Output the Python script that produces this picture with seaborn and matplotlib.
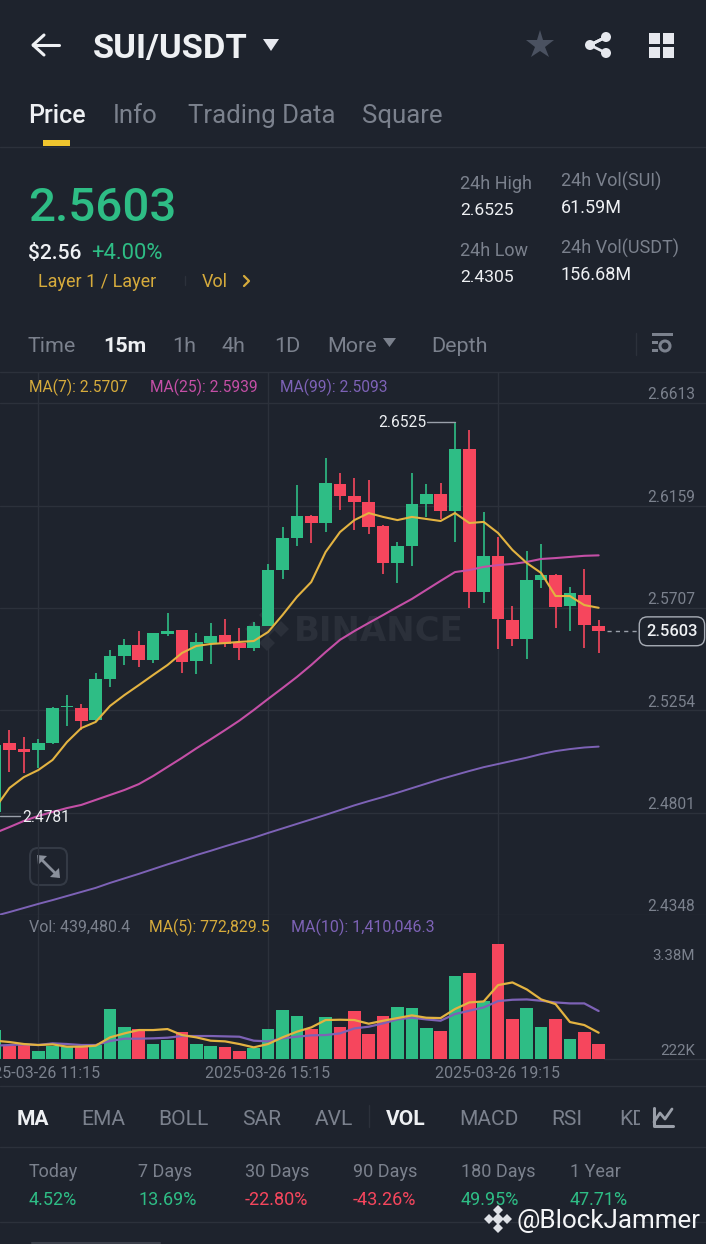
import numpy as np
import pandas as pd
import seaborn as sns
import matplotlib.pyplot as plt
from matplotlib.patches import FancyBboxPatch, Polygon, Circle, Rectangle

# candles, 15m, oldest first
opens = [2.4804, 2.5109, 2.5082, 2.5078, 2.5109, 2.5268, 2.5264, 2.5211, 2.5392, 2.5494,
         2.5542, 2.5476, 2.5591, 2.5609, 2.5472, 2.5551, 2.5587, 2.5551, 2.5529, 2.5626,
         2.5874, 2.6016, 2.6113, 2.6082, 2.6255, 2.6202, 2.6175, 2.6069, 2.5905, 2.5980,
         2.6166, 2.6210, 2.6135, 2.6410, 2.5777, 2.5936, 2.5653, 2.5569, 2.5830, 2.5852,
         2.5715, 2.5764, 2.5626]
closes = [2.5100, 2.5078, 2.5069, 2.5109, 2.5264, 2.5273, 2.5206, 2.5392, 2.5494, 2.5542,
          2.5476, 2.5596, 2.5604, 2.5467, 2.5556, 2.5582, 2.5547, 2.5529, 2.5626, 2.5874,
          2.6016, 2.6113, 2.6082, 2.6259, 2.6202, 2.6175, 2.6064, 2.5905, 2.5980, 2.6166,
          2.6210, 2.6135, 2.6410, 2.5777, 2.5936, 2.5657, 2.5569, 2.5830, 2.5852, 2.5711,
          2.5772, 2.5631, 2.5603]
highs = [2.5122, 2.5166, 2.5135, 2.5127, 2.5268, 2.5321, 2.5281, 2.5419, 2.5520, 2.5569,
         2.5604, 2.5596, 2.5684, 2.5609, 2.5596, 2.5640, 2.5657, 2.5618, 2.5644, 2.5901,
         2.6064, 2.6250, 2.6118, 2.6370, 2.6303, 2.6281, 2.6272, 2.6073, 2.5998, 2.6303,
         2.6255, 2.6259, 2.6525, 2.6494, 2.6131, 2.6020, 2.5715, 2.5958, 2.5989, 2.5856,
         2.5799, 2.5879, 2.5653]
lows = [2.4781, 2.4981, 2.4976, 2.4998, 2.5104, 2.5184, 2.5166, 2.5202, 2.5357, 2.5454,
        2.5445, 2.5463, 2.5582, 2.5419, 2.5414, 2.5458, 2.5534, 2.5476, 2.5516, 2.5626,
        2.5834, 2.5980, 2.5994, 2.6042, 2.6140, 2.6051, 2.6033, 2.5856, 2.5817, 2.5892,
        2.6109, 2.6100, 2.5998, 2.5706, 2.5728, 2.5525, 2.5538, 2.5480, 2.5795, 2.5618,
        2.5604, 2.5529, 2.5507]

ma7 = [2.4821, 2.4910, 2.4958, 2.4989, 2.5034, 2.5113, 2.5175, 2.5202, 2.5273, 2.5321,
       2.5365, 2.5410, 2.5454, 2.5507, 2.5538, 2.5547, 2.5551, 2.5556, 2.5560, 2.5600,
       2.5675, 2.5755, 2.5821, 2.5954, 2.6042, 2.6095, 2.6126, 2.6109, 2.6095, 2.6109,
       2.6100, 2.6091, 2.6126, 2.6082, 2.6087, 2.6038, 2.5963, 2.5905, 2.5861, 2.5759,
       2.5759, 2.5719, 2.5707]
ma25 = [2.4711, 2.4737, 2.4764, 2.4786, 2.4804, 2.4821, 2.4835, 2.4857, 2.4879, 2.4901,
        2.4927, 2.4963, 2.5003, 2.5043, 2.5085, 2.5125, 2.5166, 2.5208, 2.5255, 2.5304,
        2.5352, 2.5401, 2.5454, 2.5511, 2.5565, 2.5604, 2.5640, 2.5675, 2.5711, 2.5746,
        2.5786, 2.5826, 2.5865, 2.5874, 2.5888, 2.5896, 2.5901, 2.5910, 2.5923, 2.5927,
        2.5932, 2.5937, 2.5939]
ma99 = [2.4344, 2.4361, 2.4379, 2.4397, 2.4414, 2.4432, 2.4450, 2.4468, 2.4490, 2.4510,
        2.4530, 2.4551, 2.4572, 2.4592, 2.4613, 2.4632, 2.4652, 2.4671, 2.4690, 2.4711,
        2.4731, 2.4751, 2.4771, 2.4791, 2.4812, 2.4833, 2.4852, 2.4870, 2.4889, 2.4909,
        2.4929, 2.4949, 2.4967, 2.4985, 2.5002, 2.5016, 2.5030, 2.5044, 2.5060, 2.5073,
        2.5082, 2.5089, 2.5093]

# volume in thousands
volume = [851, 382, 430, 225, 391, 362, 362, 411, 1467, 929,
          880, 430, 558, 792, 430, 372, 362, 245, 333, 871,
          1438, 1252, 880, 1223, 929, 1419, 734, 1252, 1516, 1497,
          900, 832, 2436, 2514, 1702, 3380, 1174, 1487, 939, 1164,
          577, 783, 439]
vol_ma5 = [538, 499, 440, 411, 430, 362, 362, 391, 636, 753,
           851, 851, 880, 704, 636, 538, 518, 440, 342, 440,
           636, 802, 929, 1145, 1154, 1145, 1037, 1125, 1203, 1282,
           1213, 1203, 1467, 1663, 1692, 2172, 2250, 2045, 1751, 1614,
           1086, 998, 773]
vol_ma10 = [391, 411, 430, 411, 460, 440, 411, 411, 528, 597,
            597, 607, 626, 675, 675, 675, 665, 655, 538, 518,
            607, 655, 695, 704, 753, 900, 949, 1047, 1164, 1213,
            1164, 1125, 1321, 1419, 1516, 1702, 1741, 1751, 1712, 1663,
            1634, 1634, 1410]

price_ticks = [2.6613, 2.6159, 2.5707, 2.5254, 2.4801, 2.4348]
date_idx = [3, 19, 35]
date_labels = ['2025-03-26 11:15', '2025-03-26 15:15', '2025-03-26 19:15']

tabs = [('Price', 28, True), ('Info', 113, False), ('Trading Data', 188, False), ('Square', 362, False)]
intervals = [('Time', 27, False), ('15m', 103, True), ('1h', 172, False), ('4h', 222, False),
             ('1D', 274, False), ('More', 327, False), ('Depth', 431, False)]
indicators = [('MA', 17, True), ('EMA', 81, False), ('BOLL', 158, False), ('SAR', 242, False),
              ('AVL', 315, False), ('VOL', 386, True), ('MACD', 459, False), ('RSI', 551, False),
              ('KD', 619, False)]
periods = ['Today', '7 Days', '30 Days', '90 Days', '180 Days', '1 Year']
period_x = [29, 138, 245, 353, 461, 570]
period_vals = ['4.52%', '13.69%', '-22.80%', '-43.26%', '49.95%', '47.71%']

BG = '#1e232d'
GRID = '#2c313b'
GREY = '#7b818d'
WHITE = '#eef0f3'
GREEN = '#2ebd85'
RED = '#f6465d'
YELLOW = '#e3b341'
PINK = '#c44fa6'
PURPLE = '#7d62b6'

sns.set_theme(style='dark')
plt.rcParams['font.family'] = ['Roboto', 'DejaVu Sans']

df = pd.DataFrame({'i': np.arange(len(opens)), 'open': opens, 'close': closes, 'high': highs, 'low': lows,
                   'ma7': ma7, 'ma25': ma25, 'ma99': ma99,
                   'vol': np.array(volume) * 1000, 'vol5': np.array(vol_ma5) * 1000,
                   'vol10': np.array(vol_ma10) * 1000})
df['dir'] = np.where(df['close'] >= df['open'], 'up', 'down')
palette = {'up': GREEN, 'down': RED}

fig = plt.figure(figsize=(7.06, 12.44), dpi=100, facecolor=BG)

# page layer in screen pixels, one below the chart panels and one above
page = fig.add_axes([0, 0, 1, 1], zorder=0)
page.set_xlim(0, 706)
page.set_ylim(1244, 0)
page.axis('off')
over = fig.add_axes([0, 0, 1, 1], zorder=2)
over.set_xlim(0, 706)
over.set_ylim(1244, 0)
over.axis('off')


def label(x, y, s, px, color=GREY, weight='normal', ha='left', ax=page):
    return ax.text(x, y, s, fontsize=px * 0.72, color=color, fontweight=weight, ha=ha, va='baseline')


def binance_logo(x, y, r, color):
    page.plot([x], [y], marker='D', ms=r * 0.5, color=color, mew=0)
    for dx, dy in [(-1, 0), (1, 0), (0, -1), (0, 1)]:
        page.plot([x + dx * r * 0.72], [y + dy * r * 0.72], marker='D', ms=r * 0.42, color=color, mew=0)


# header
page.plot([33, 59], [45, 45], color=WHITE, lw=2.2, solid_capstyle='round')
page.plot([44, 33, 44], [35, 45, 55], color=WHITE, lw=2.2, solid_capstyle='round', solid_joinstyle='round')
label(93, 58, 'SUI/USDT', 34.5, WHITE, 'bold')
page.add_patch(Polygon([[263, 39], [279, 39], [271, 51]], closed=True, color='#e6e8ee', lw=0))
page.plot([540], [45], marker='*', ms=21, color='#4a5160', mew=0)
page.plot([590, 606, 590, 606], [45, 37, 45, 53], color='#e6e8ee', lw=2)
for cx, cy in [(590, 45), (606, 37), (606, 53)]:
    page.add_patch(Circle((cx, cy), 5, color='#e6e8ee', lw=0))
for cx, cy in [(649, 33), (663, 33), (649, 47), (663, 47)]:
    page.add_patch(Rectangle((cx, cy), 11, 10.5, color='#e6e8ee', lw=0))

for txt, x, on in tabs:
    label(x, 123, txt, 25 if on else 25.8, WHITE if on else GREY, 'medium' if on else 'normal')
page.add_patch(Rectangle((43, 140), 27, 5.5, color='#f0c52e', lw=0))
page.plot([0, 706], [147, 147], color=GRID, lw=1)

# ticker block
label(28, 221, '2.5603', 47.5, GREEN, 'medium')
label(28, 259, '$2.56', 21, WHITE, 'medium')
label(91, 259, '+4.00%', 22, GREEN)
label(38, 287, 'Layer 1 / Layer', 18, '#d6ab3c')
page.plot([185, 185], [276, 285], color=GRID, lw=1)
label(202, 287, 'Vol', 18, '#d6ab3c')
page.plot([244, 249, 244], [276, 281, 286], color='#d6ab3c', lw=1.6)
label(460, 189, '24h High', 18)
label(561, 187, '24h Vol(SUI)', 18)
label(460, 215, '2.6525', 17.5, WHITE)
label(561, 213, '61.59M', 18, WHITE)
label(460, 256, '24h Low', 18)
label(561, 254, '24h Vol(USDT)', 18)
label(460, 282, '2.4305', 17.5, WHITE)
label(561, 280, '156.68M', 18, WHITE)

# interval row
for txt, x, on in intervals:
    label(x, 352, txt, 21.5, WHITE if on else GREY, 'bold' if on else 'normal')
page.add_patch(Polygon([[383, 338], [396, 338], [389.5, 347]], closed=True, color=GREY, lw=0))
page.plot([636, 636], [333, 355], color=GRID, lw=1)
page.add_patch(Rectangle((652, 333), 21, 3, color=GREY, lw=0))
page.add_patch(Rectangle((652, 341), 6, 3, color=GREY, lw=0))
page.add_patch(Rectangle((652, 349), 6, 3, color=GREY, lw=0))
page.add_patch(Circle((665, 346), 5, fill=False, ec=GREY, lw=2.2))
page.plot([0, 706], [372, 372], color=GRID, lw=1)

# moving average legends
label(29, 392, 'MA(7): 2.5707', 15.6, '#d6ab3c', ax=over)
label(150, 392, 'MA(25): 2.5939', 15.6, PINK, ax=over)
label(280, 392, 'MA(99): 2.5093', 15.6, PURPLE, ax=over)

# watermark sits under the candles
binance_logo(267, 629, 19, '#2b303a')
page.text(294, 641, 'BINANCE', fontsize=34 * 0.72, color='#2b303a', fontweight='bold',
          family=['DejaVu Sans'], va='baseline')

# price panel
ax = fig.add_axes([0, (1244 - 915) / 1244, 1, (915 - 372) / 1244], zorder=1)
ax.patch.set_alpha(0)
for _, c in df.iterrows():
    col = palette[c['dir']]
    ax.vlines(c['i'], c['low'], c['high'], color=col, lw=1.2, zorder=3)
    body = max(abs(c['close'] - c['open']), 0.0005)
    ax.bar(c['i'], body, bottom=min(c['open'], c['close']), width=0.88, color=col, linewidth=0, zorder=3)
sns.lineplot(data=df, x='i', y='ma99', color=PURPLE, lw=1.4, ax=ax, zorder=4)
sns.lineplot(data=df, x='i', y='ma25', color=PINK, lw=1.5, ax=ax, zorder=4)
sns.lineplot(data=df, x='i', y='ma7', color=YELLOW, lw=1.5, ax=ax, zorder=4)

x_lo, x_hi = 0.341, 49.47
ax.set_xlim(x_lo, x_hi)
ax.set_ylim(2.4348, 2.67501)
ax.set_yticks(price_ticks)
ax.set_xticks(date_idx)
ax.set_xticklabels([])
ax.set_yticklabels([])
ax.set_xlabel('')
ax.set_ylabel('')
ax.tick_params(length=0)
ax.grid(True, color=GRID, lw=1)
ax.set_axisbelow(True)
sns.despine(ax=ax, left=True, bottom=True)

for p in price_ticks:
    ax.annotate(f'{p:.4f}', xy=(695, p), xycoords=('figure pixels', 'data'), xytext=(0, 0.4),
                textcoords='offset points', ha='right', va='bottom', color=GREY, fontsize=15.5 * 0.72)

# high / low markers and last price tag
ax.plot([32.03, 30.05], [2.6529, 2.6529], color='#9aa0aa', lw=1)
ax.text(30, 2.6525, '2.6525', fontsize=15.5 * 0.72, color=WHITE, ha='right', va='center')
ax.plot([x_lo, 1.7], [2.4785, 2.4785], color='#9aa0aa', lw=1)
ax.text(1.9, 2.4778, '2.4781', fontsize=15.5 * 0.72, color=WHITE, ha='left', va='center', zorder=5)
ax.plot([42.6, 44.7], [2.5603, 2.5603], color='#9aa0aa', lw=1, ls=(0, (3, 3)))
ax.text(47.1, 2.5603, '2.5603', fontsize=16.5 * 0.72, color=WHITE, ha='center', va='center', fontweight='medium',
        bbox=dict(boxstyle='round,pad=0.42,rounding_size=0.5', fc=BG, ec='#a8adb6', lw=1))

# volume panel
vax = fig.add_axes([0, (1244 - 1059) / 1244, 1, (1059 - 915) / 1244], zorder=1)
vax.patch.set_alpha(0)
sns.barplot(data=df, x='i', y='vol', hue='dir', palette=palette, native_scale=True, dodge=False,
            width=0.88, saturation=1, legend=False, errorbar=None, linewidth=0, ax=vax, zorder=3)
sns.lineplot(data=df, x='i', y='vol10', color=PURPLE, lw=1.6, ax=vax, zorder=4)
sns.lineplot(data=df, x='i', y='vol5', color=YELLOW, lw=1.6, ax=vax, zorder=4)
vax.set_xlim(x_lo, x_hi)
vax.set_ylim(0, 144 * 29390)
vax.set_xticks(date_idx)
vax.set_xticklabels([])
vax.set_yticks([])
vax.set_xlabel('')
vax.set_ylabel('')
vax.tick_params(length=0)
vax.grid(True, axis='x', color=GRID, lw=1)
vax.set_axisbelow(True)
sns.despine(ax=vax, left=True, bottom=True)

label(29, 932, 'Vol: 439,480.4', 16, ax=over)
label(149, 932, 'MA(5): 772,829.5', 15.8, '#d6ab3c', ax=over)
label(291, 932, 'MA(10): 1,410,046.3', 16, PURPLE, ax=over)
label(695, 960, '3.38M', 15, ha='right')
label(695, 1055, '222K', 15, ha='right')
page.plot([604, 706], [1059, 1059], color=GRID, lw=1)

for idx, txt in zip(date_idx, date_labels):
    page.text(idx * 14.37 - 5.9, 1078, txt, fontsize=16 * 0.72, color=GREY, ha='center', va='baseline')
page.plot([0, 706], [1086, 1086], color=GRID, lw=1)

# expand button
page.add_patch(FancyBboxPatch((30, 848), 37, 37, boxstyle='round,pad=0,rounding_size=8', fc='none', ec='#343a45', lw=1.5))
page.plot([39, 58], [857, 876], color='#8a909b', lw=2)
page.add_patch(Polygon([[37, 855], [47, 856], [38, 865]], closed=True, color='#8a909b', lw=0))
page.add_patch(Polygon([[60, 878], [50, 877], [59, 868]], closed=True, color='#8a909b', lw=0))

# indicator tabs
for txt, x, on in indicators:
    label(x, 1125, txt, 21, WHITE if on else GREY, 'bold' if on else 'normal')
page.plot([369, 369], [1105, 1127], color=GRID, lw=1)
page.add_patch(Rectangle((640, 1105), 32, 24, color=BG, lw=0, zorder=3))
page.plot([654, 654, 673], [1108, 1126, 1126], color='#9a9fa9', lw=2.2, zorder=4)
page.plot([654, 660, 665, 672], [1122, 1113, 1119, 1109], color='#9a9fa9', lw=2, zorder=4)
page.plot([0, 706], [1147, 1147], color=GRID, lw=1)

# period returns
for txt, x, val in zip(periods, period_x, period_vals):
    label(x, 1177, txt, 18)
    label(x, 1205, val, 18, RED if val.startswith('-') else GREEN)
page.plot([0, 706], [1222, 1222], color=GRID, lw=1)
page.plot([32, 160], [1243, 1243], color='#3a3f49', lw=1.5)

# repost tag
binance_logo(498, 1219, 12, '#dfe2e7')
label(516, 1228, '@BlockJammer', 26, '#f4f5f7')

fig.savefig('out.png', dpi=100, facecolor=BG)
